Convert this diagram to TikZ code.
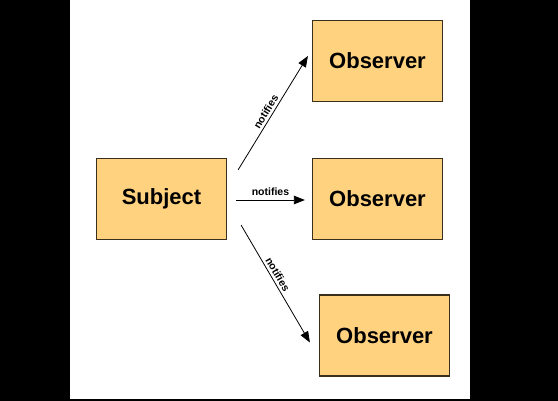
\documentclass[tikz,border=0pt]{standalone}
\usepackage{fontspec}
\setmainfont{Liberation Sans}
\usepackage{xcolor}
\usepackage{tikz}
\usetikzlibrary{arrows.meta}
\definecolor{boxfill}{HTML}{FFD280}
\definecolor{boxline}{HTML}{3A2E1C}
\tikzset{
    classbox/.style={draw=boxline,line width=1.2pt,fill=boxfill,minimum width=130pt,minimum height=81pt,inner sep=0pt,font=\bfseries\fontsize{22}{26}\selectfont},
    notify/.style={line width=0.8pt,-{Triangle[length=11pt,width=8.5pt]}},
    notelabel/.style={font=\bfseries\fontsize{10.5}{12}\selectfont,inner sep=2.5pt}
}

\begin{document}
\begin{tikzpicture}[x=1pt,y=-1pt]
        \fill[black] (0,0) rectangle (558,401);
        \fill[white] (70,0) rectangle (470,399);
        \useasboundingbox (0,0) rectangle (558,401);

        \node[classbox] (subj) at (161.5,199){Subject};
        \node[classbox] (obsa) at (377.5,61){Observer};
        \node[classbox] (obsb) at (377.5,199){Observer};
        \node[classbox] (obsc) at (384.5,335.5){Observer};

        \draw[notify] ([xshift=11pt,yshift=-12pt]subj.north east)--node[notelabel,above,sloped,pos=0.48]{notifies} ([xshift=-4pt,yshift=5pt]obsa.west);
        \draw[notify] ([xshift=9pt,yshift=-1pt]subj.east)--node[notelabel,above,yshift=1pt]{notifies} ([xshift=-7pt,yshift=-1pt]obsb.west);
        \draw[notify] ([xshift=14pt,yshift=15pt]subj.south east)--node[notelabel,above,sloped,pos=0.45]{notifies} ([xshift=-9pt,yshift=-7pt]obsc.west);
    \end{tikzpicture}
\end{document}
